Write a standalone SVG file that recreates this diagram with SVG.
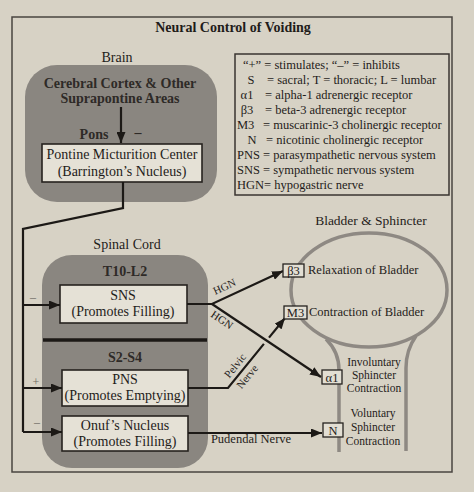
<svg xmlns="http://www.w3.org/2000/svg" width="474" height="492" viewBox="0 0 474 492">
<defs>
<style>
text{font-family:"Liberation Serif","Times New Roman",serif;fill:#1f1c1a}
.t14{font-size:14px}
.b14{font-size:14px;font-weight:bold}
.gb{font-size:14px;font-weight:bold;fill:#2e2a27}
.lg{font-size:12.5px}
.sm{font-size:12.5px}
.sp{font-size:11.5px}
.hg{font-size:11px}
.pm{font-size:12px;fill:#6e6a64}
.box{fill:#e5e1d6;stroke:#26221f;stroke-width:1.6}
.rbox{fill:#e2ded3;stroke:#26221f;stroke-width:1.3}
.gray{fill:#8a8680}
.ln{fill:none;stroke:#1c1916;stroke-width:2.2}
.bl{fill:none;stroke:#8e8983;stroke-width:3.5}
</style>
<marker id="ah" markerUnits="userSpaceOnUse" markerWidth="11" markerHeight="9" refX="11" refY="4.5" orient="auto">
<path d="M0,0 L11,4.5 L0,9 z" fill="#1c1916"/>
</marker>
</defs>
<rect x="0" y="0" width="474" height="492" fill="#d7d2c5"/>
<rect x="12" y="17" width="440" height="455" fill="none" stroke="#4a4540" stroke-width="1.5"/>
<text class="b14" x="233" y="32" text-anchor="middle">Neural Control of Voiding</text>

<g id="legend">
<rect x="235" y="54" width="214" height="141" fill="none" stroke="#3a3531" stroke-width="1.5"/>
<text class="lg" x="243" y="69">“+” = stimulates; “–” = inhibits</text>
<text class="lg" x="251" y="84" text-anchor="middle">S</text><text class="lg" x="267" y="84">= sacral; T = thoracic; L = lumbar</text>
<text class="lg" x="247" y="99" text-anchor="middle">α1</text><text class="lg" x="265" y="99">= alpha-1 adrenergic receptor</text>
<text class="lg" x="247" y="114" text-anchor="middle">β3</text><text class="lg" x="265" y="114">= beta-3 adrenergic receptor</text>
<text class="lg" x="237" y="129">M3</text><text class="lg" x="263" y="129">= muscarinic-3 cholinergic receptor</text>
<text class="lg" x="252" y="144" text-anchor="middle">N</text><text class="lg" x="266" y="144">= nicotinic cholinergic receptor</text>
<text class="lg" x="237" y="159">PNS = parasympathetic nervous system</text>
<text class="lg" x="237" y="174">SNS = sympathetic nervous system</text>
<text class="lg" x="237" y="189">HGN= hypogastric nerve</text>
</g>

<g id="brain">
<text class="t14" x="117" y="62" text-anchor="middle">Brain</text>
<rect class="gray" x="25" y="65" width="192" height="137" rx="32"/>
<text class="gb" x="120" y="88" text-anchor="middle">Cerebral Cortex &amp; Other</text>
<text class="gb" x="120" y="103" text-anchor="middle">Suprapontine Areas</text>
<text class="gb" x="94" y="139" text-anchor="middle">Pons</text>
<text class="gb" x="138" y="137" text-anchor="middle">–</text>
</g>
<g id="pmc">
<rect class="box" x="42" y="144" width="160" height="38"/>
<text class="t14" x="122" y="159" text-anchor="middle">Pontine Micturition Center</text>
<text class="t14" x="122" y="176" text-anchor="middle">(Barrington’s Nucleus)</text>
</g>

<g id="spinal">
<text class="t14" x="127" y="249" text-anchor="middle">Spinal Cord</text>
<rect class="gray" x="42" y="255" width="166" height="213" rx="30"/>
<line x1="43" y1="340" x2="207" y2="340" stroke="#1c1916" stroke-width="3.5"/>
<text class="gb" x="125" y="276" text-anchor="middle">T10-L2</text>
<text class="gb" x="125" y="362" text-anchor="middle">S2-S4</text>
</g>
<g id="sns">
<rect class="box" x="60" y="285" width="127" height="38"/>
<text class="t14" x="123" y="300" text-anchor="middle">SNS</text>
<text class="t14" x="123" y="316" text-anchor="middle">(Promotes Filling)</text>
</g>
<g id="pns">
<rect class="box" x="62" y="370" width="126" height="36"/>
<text class="t14" x="125" y="384" text-anchor="middle">PNS</text>
<text class="t14" x="125" y="400" text-anchor="middle">(Promotes Emptying)</text>
</g>
<g id="onuf">
<rect class="box" x="62" y="416" width="126" height="35"/>
<text class="t14" x="125" y="430" text-anchor="middle">Onuf’s Nucleus</text>
<text class="t14" x="125" y="446" text-anchor="middle">(Promotes Filling)</text>
</g>

<g id="bladder">
<text class="t14" x="371" y="225" text-anchor="middle" style="font-size:13.5px">Bladder &amp; Sphincter</text>
<ellipse class="bl" cx="369" cy="290" rx="78" ry="57"/>
<path class="bl" d="M326,339 Q339,352 339,370 L339,452"/>
<path class="bl" d="M416,336 Q406,350 406,368 L406,451"/>
</g>

<g id="connectors">
<line class="ln" x1="121" y1="107" x2="121" y2="143" marker-end="url(#ah)"/>
<polyline class="ln" points="123,182 123,208 23,229 23,432"/>
<line class="ln" x1="23" y1="305" x2="60" y2="305" marker-end="url(#ah)"/>
<line class="ln" x1="23" y1="388" x2="62" y2="388" marker-end="url(#ah)"/>
<line class="ln" x1="23" y1="432" x2="62" y2="432" marker-end="url(#ah)"/>
<polyline class="ln" points="187,304 212,304 283,271" marker-end="url(#ah)"/>
<line class="ln" x1="212" y1="304" x2="321" y2="377" marker-end="url(#ah)"/>
<polyline class="ln" points="188,388 228,388 263.9,343.9"/>
<line class="ln" x1="269" y1="337.6" x2="285" y2="318" marker-end="url(#ah)"/>
<line class="ln" x1="188" y1="433" x2="322" y2="433" marker-end="url(#ah)"/>
<text class="pm" x="33" y="301" text-anchor="middle">–</text>
<text class="pm" x="36" y="386" text-anchor="middle">+</text>
<text class="pm" x="37" y="426" text-anchor="middle">–</text>
<text class="hg" transform="translate(226,290) rotate(-25)" text-anchor="middle">HGN</text>
<text class="hg" transform="translate(220,323) rotate(34)" text-anchor="middle">HGN</text>
<text class="hg" transform="translate(238,368) rotate(-51)" text-anchor="middle">Pelvic</text>
<text class="hg" transform="translate(250,379) rotate(-51)" text-anchor="middle">Nerve</text>
<text class="sm" x="251" y="443" text-anchor="middle">Pudendal Nerve</text>
</g>

<g id="receptors">
<rect class="rbox" x="283" y="264" width="21" height="13"/>
<text class="sm" x="293.5" y="275" text-anchor="middle">β3</text>
<text class="sm" x="308" y="274">Relaxation of Bladder</text>
<rect class="rbox" x="284" y="306" width="23" height="13"/>
<text class="sm" x="295.5" y="317" text-anchor="middle">M3</text>
<text class="sm" x="309" y="316">Contraction of Bladder</text>
<rect class="rbox" x="322" y="370" width="20" height="14"/>
<text class="sm" x="332" y="381.5" text-anchor="middle">α1</text>
<rect class="rbox" x="323" y="423" width="20" height="14"/>
<text class="sm" x="333" y="434.5" text-anchor="middle">N</text>
<text class="sp" x="374" y="366" text-anchor="middle">Involuntary</text>
<text class="sp" x="374" y="379" text-anchor="middle">Sphincter</text>
<text class="sp" x="374" y="392" text-anchor="middle">Contraction</text>
<text class="sp" x="373" y="417" text-anchor="middle">Voluntary</text>
<text class="sp" x="373" y="431" text-anchor="middle">Sphincter</text>
<text class="sp" x="373" y="445" text-anchor="middle">Contraction</text>
</g>
</svg>
